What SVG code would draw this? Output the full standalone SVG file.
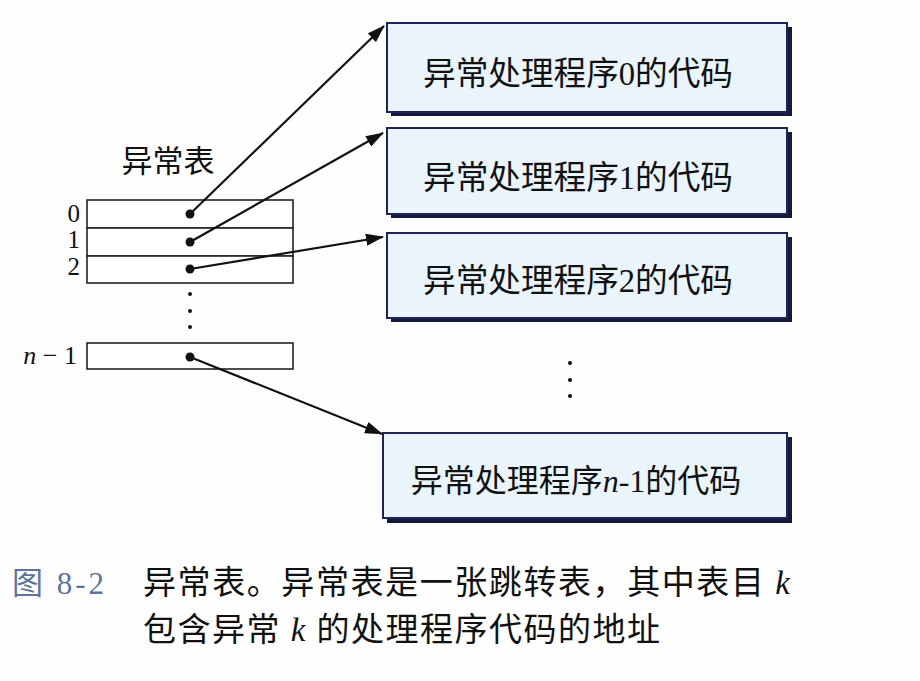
<svg xmlns="http://www.w3.org/2000/svg" width="920" height="681" viewBox="0 0 920 681">
<defs>
<style>
.t{font-family:"Liberation Serif","Noto Sans CJK SC",serif;fill:#111}
.bx{fill:#eaf4fb;stroke:#1c2458;stroke-width:2}
.sh{fill:#141a3c}
.cell{fill:#fff;stroke:#222;stroke-width:1.6}
.ln{stroke:#111;stroke-width:2.2;fill:none}
.dot{fill:#111}
</style>
<marker id="ah" viewBox="0 0 18 12" refX="17" refY="6" markerWidth="18" markerHeight="12" markerUnits="userSpaceOnUse" orient="auto">
<path d="M0,0 L18,6 L0,12 z" fill="#111"/>
</marker>
</defs>
<rect width="920" height="681" fill="#fefefe"/>

<g id="table">
<text class="t" x="168" y="172" font-size="31" text-anchor="middle">异常表</text>
<rect class="cell" x="87" y="200" width="206" height="28"/>
<rect class="cell" x="87" y="228" width="206" height="28"/>
<rect class="cell" x="87" y="256" width="206" height="27"/>
<rect class="cell" x="87" y="343" width="206" height="26"/>
<text class="t" x="80" y="222" font-size="25" text-anchor="end">0</text>
<text class="t" x="80" y="248" font-size="25" text-anchor="end">1</text>
<text class="t" x="80" y="275" font-size="25" text-anchor="end">2</text>
<text class="t" x="77" y="364" font-size="26" text-anchor="end"><tspan font-style="italic">n</tspan> − 1</text>
<circle class="dot" cx="190" cy="214" r="4.5"/>
<circle class="dot" cx="190" cy="242" r="4.5"/>
<circle class="dot" cx="190" cy="269" r="4.5"/>
<circle class="dot" cx="190" cy="357" r="4.5"/>
<circle class="dot" cx="190" cy="294" r="2"/>
<circle class="dot" cx="190" cy="311" r="2"/>
<circle class="dot" cx="190" cy="327" r="2"/>
</g>

<g id="handler0">
<rect class="sh" x="391" y="27" width="401" height="89"/>
<rect class="bx" x="387" y="23" width="400" height="89"/>
<text class="t" x="578" y="85" font-size="33" text-anchor="middle" textLength="310" lengthAdjust="spacingAndGlyphs">异常处理程序0的代码</text>
</g>
<g id="handler1">
<rect class="sh" x="391" y="132" width="401" height="86"/>
<rect class="bx" x="387" y="128" width="400" height="86"/>
<text class="t" x="578" y="189" font-size="33" text-anchor="middle" textLength="310" lengthAdjust="spacingAndGlyphs">异常处理程序1的代码</text>
</g>
<g id="handler2">
<rect class="sh" x="391" y="237" width="401" height="85"/>
<rect class="bx" x="387" y="233" width="400" height="85"/>
<text class="t" x="578" y="292" font-size="33" text-anchor="middle" textLength="310" lengthAdjust="spacingAndGlyphs">异常处理程序2的代码</text>
</g>
<g id="dots">
<circle class="dot" cx="570" cy="363" r="2"/>
<circle class="dot" cx="570" cy="380" r="2"/>
<circle class="dot" cx="570" cy="396" r="2"/>
</g>
<g id="handlern">
<rect class="sh" x="387" y="437" width="405" height="86"/>
<rect class="bx" x="383" y="433" width="404" height="85"/>
<text class="t" x="576" y="492" font-size="32" text-anchor="middle">异常处理程序<tspan font-style="italic">n</tspan>-1的代码</text>
</g>

<g id="connectors">
<line class="ln" x1="190" y1="214" x2="384" y2="26" marker-end="url(#ah)"/>
<line class="ln" x1="190" y1="242" x2="383" y2="133" marker-end="url(#ah)"/>
<line class="ln" x1="190" y1="269" x2="383" y2="237" marker-end="url(#ah)"/>
<line class="ln" x1="190" y1="357" x2="382" y2="434" marker-end="url(#ah)"/>
</g>

<g id="caption">
<text class="t" x="12" y="594" font-size="31" style="fill:#5e7397" textLength="92" lengthAdjust="spacing">图 8-2</text>
<text class="t" x="143" y="594" font-size="33" textLength="647" lengthAdjust="spacing">异常表。异常表是一张跳转表，其中表目 <tspan font-style="italic">k</tspan></text>
<text class="t" x="143" y="641" font-size="33" textLength="517" lengthAdjust="spacing">包含异常 <tspan font-style="italic">k</tspan> 的处理程序代码的地址</text>
</g>
</svg>
